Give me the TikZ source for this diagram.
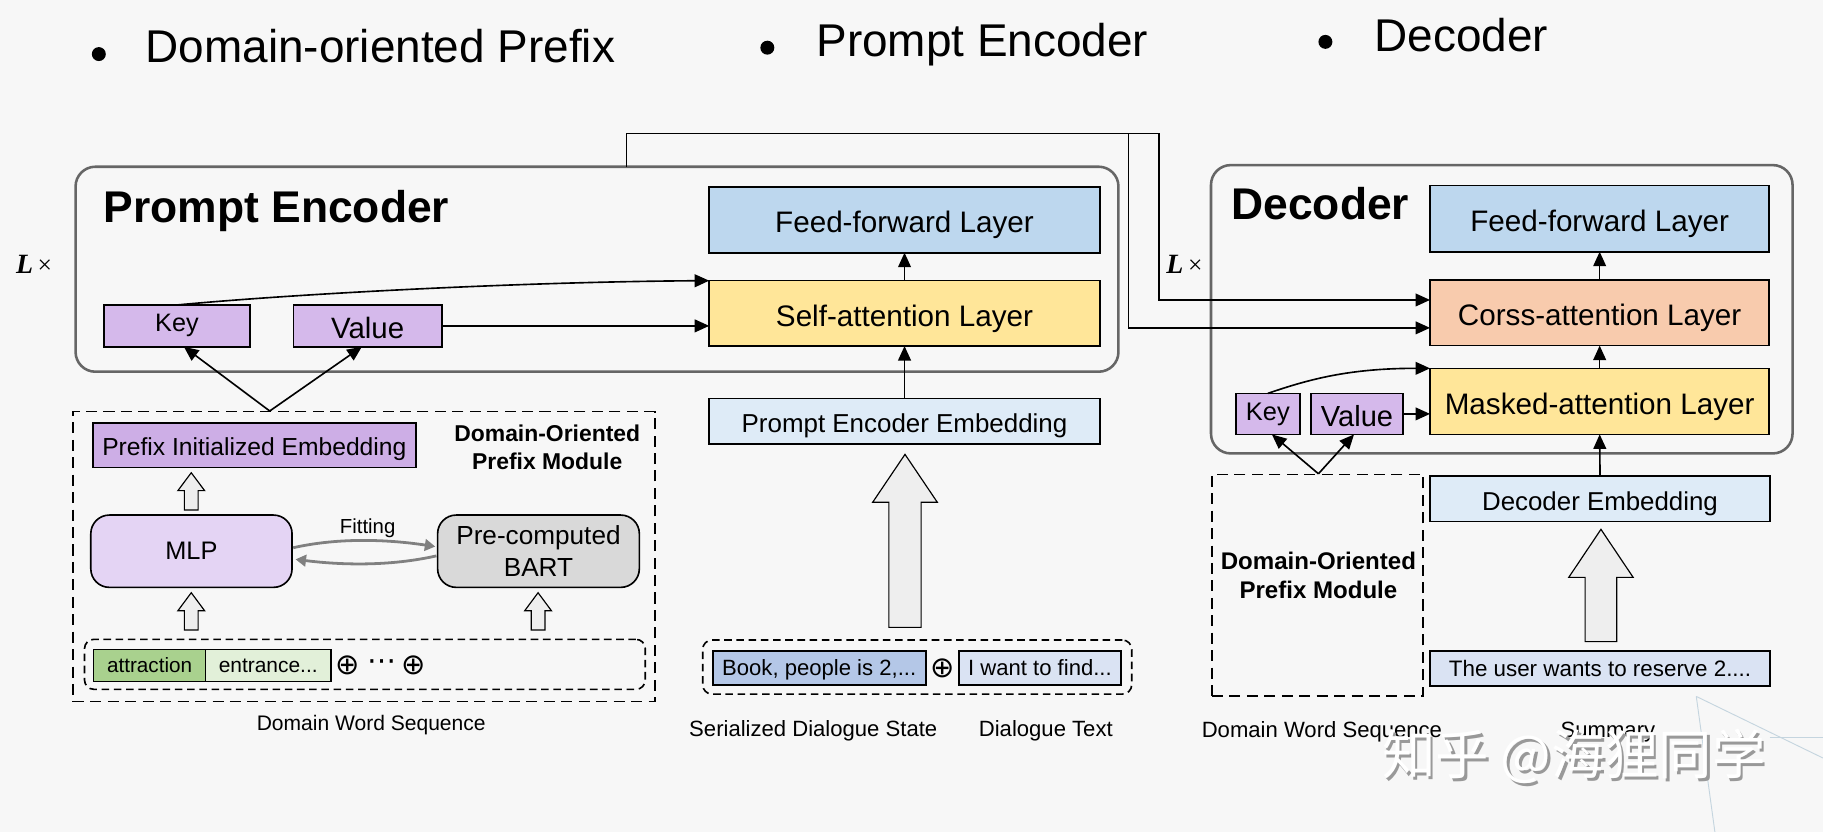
\documentclass[tikz,border=0pt]{standalone}
\usepackage{fontspec}
\setmainfont{Liberation Sans}
\newfontfamily\serifL{Liberation Serif}
\newfontfamily\cjkfont{Noto Sans CJK SC}
\newfontfamily\dejavu{DejaVu Sans}
\usetikzlibrary{arrows.meta,calc}
\newcommand{\myfs}[2]{\fontsize{#1}{#2}\selectfont}
\definecolor{bg}{HTML}{F7F7F7}
\definecolor{ffblue}{HTML}{BDD7EE}
\definecolor{sayellow}{HTML}{FFE699}
\definecolor{capeach}{HTML}{F8CBAD}
\definecolor{embblue}{HTML}{DEEBF7}
\definecolor{kvpurple}{HTML}{D5B9EB}
\definecolor{piepurple}{HTML}{CDAEE6}
\definecolor{mlppurple}{HTML}{E4D4F4}
\definecolor{bartgray}{HTML}{D9D9D9}
\definecolor{attrgreen}{HTML}{A9D18E}
\definecolor{entrgreen}{HTML}{E2F0D9}
\definecolor{bookblue}{HTML}{B4C7E7}
\definecolor{textblue}{HTML}{DAE3F3}
\definecolor{outergray}{HTML}{666666}
\definecolor{blockfill}{HTML}{EEEEEE}
\definecolor{fitgray}{HTML}{808080}
\definecolor{faint}{HTML}{C5D5DF}
\newcommand{\upblock}[6]{\draw[blockarr] (#1,#2) -- ({#1+#5},#3) -- ({#1+#6},#3) -- ({#1+#6},#4) -- ({#1-#6},#4) -- ({#1-#6},#3) -- ({#1-#5},#3) -- cycle;}
\begin{document}
\begin{tikzpicture}[x=1pt,y=-1pt,
  box/.style={draw=black, line width=1.4pt, inner sep=0pt, outer sep=0pt},
  th/.style 2 args={text height=#1, text depth=#2},
  layer/.style={box, th={27.3pt}{5.4pt}, font=\myfs{25.5}{30}},
  outerbox/.style={draw=outergray, line width=2.2pt, rounded corners=17pt, inner sep=0pt, outer sep=0pt},
  dashbox/.style={draw=black, line width=1.4pt, dash pattern=on 9.5pt off 5.5pt, inner sep=0pt, outer sep=0pt},
  sdashbox/.style={draw=black, line width=1.4pt, dash pattern=on 6.5pt off 4pt, rounded corners=8pt, inner sep=0pt, outer sep=0pt},
  arr/.style={-{Triangle[length=12.5pt,width=11pt]}, line width=1.4pt},
  fitarr/.style={-{Triangle[length=9pt,width=10pt]}, line width=2.4pt, draw=fitgray, color=fitgray},
  blockarr/.style={draw=black, line width=1pt, fill=blockfill},
  lbl/.style={font=\myfs{19}{23}, inner sep=0pt, anchor=base},
  head/.style={font=\myfs{39.5}{42}, inner sep=0pt, anchor=base west},
  title/.style={font=\bfseries\myfs{38.2}{40}, inner sep=0pt, anchor=base west},
  lx/.style={font=\myfs{24}{26}, inner sep=0pt, anchor=base west},
  sym/.style={font=\dejavu\myfs{25}{28}, inner sep=0pt},
]
\fill[bg] (0,0) rectangle (1568,715.6);
\useasboundingbox (0,0) rectangle (1568,715.6);

% headings
\fill (85,46.5) circle (6pt);
\fill (660,41) circle (6pt);
\fill (1140,36) circle (6pt);
\node[head] (h1) at (125,54) {Domain-oriented Prefix};
\node[head] (h2) at (702,49) {Prompt Encoder};
\node[head] (h3) at (1182,44.5) {Decoder};

% prompt encoder
\node[outerbox, minimum width=897pt, minimum height=176.3pt] (penc) at (513.5,231.55) {};
\node[title] (pett) at (89,191) {Prompt Encoder};
\node[lx] (lx1) at (13.6,235) {\serifL\bfseries\itshape L\normalfont\serifL\,{\myfs{22}{24}×}};
\node[layer, fill=ffblue, minimum width=336pt, minimum height=56.7pt] (ff1) at (778,189) {Feed-forward Layer};
\node[layer, fill=sayellow, minimum width=336pt, minimum height=56.2pt] (sa1) at (778,269.5) {Self-attention Layer};
\node[box, fill=kvpurple, minimum width=126pt, minimum height=36pt, font=\myfs{21.7}{24}] (key1) at (152.2,280.3) {Key};
\node[box, th={27.1pt}{5.3pt}, fill=kvpurple, minimum width=127.5pt, minimum height=36pt, font=\myfs{25.3}{28}] (val1) at (316.2,280.3) {Value};
\node[box, th={24.2pt}{4.7pt}, fill=embblue, minimum width=336pt, minimum height=39.4pt, font=\myfs{22.3}{26}] (pee) at (778,362.3) {Prompt Encoder Embedding};

% decoder
\node[outerbox, minimum width=500.2pt, minimum height=248pt] (dec) at (1291.7,266) {};
\node[title] (dect) at (1059,189) {Decoder};
\node[lx] (lx2) at (1003,235) {\serifL\bfseries\itshape L\normalfont\serifL\,{\myfs{22}{24}×}};
\node[layer, fill=ffblue, minimum width=291.8pt, minimum height=56.8pt] (ff2) at (1375.9,188.1) {Feed-forward Layer};
\node[layer, fill=capeach, minimum width=291.8pt, minimum height=56.5pt] (ca) at (1375.9,269) {Corss-attention Layer};
\node[layer, fill=sayellow, minimum width=291.8pt, minimum height=56.8pt] (ma) at (1375.9,345.2) {Masked-attention Layer};
\node[box, fill=kvpurple, minimum width=55pt, minimum height=35.3pt, font=\myfs{21.9}{24}] (key2) at (1090.5,356) {Key};
\node[box, th={26.8pt}{5.25pt}, fill=kvpurple, minimum width=79.2pt, minimum height=35.3pt, font=\myfs{25}{28}] (val2) at (1167.2,356) {Value};
\node[box, th={24.5pt}{4.7pt}, fill=embblue, minimum width=292.5pt, minimum height=39.3pt, font=\myfs{22.25}{26}] (de) at (1376.2,429) {Decoder Embedding};
\node[box, fill=textblue, minimum width=292.5pt, minimum height=30.3pt, font=\myfs{19.25}{23}] (summ) at (1376.2,574.9) {The user wants to reserve 2....};
\node[dashbox, minimum width=181.7pt, minimum height=190.4pt] (mod2) at (1133.3,503.2) {};
\node[font=\bfseries\myfs{20.7}{25.5}, align=center, inner sep=0pt] (mod2t) at (1134,495) {Domain-Oriented\\Prefix Module};

% left prefix module
\node[dashbox, minimum width=500.6pt, minimum height=249.5pt] (mod1) at (313.1,478.75) {};
\node[font=\bfseries\myfs{19.7}{23.8}, align=center, inner sep=0pt] (mod1t) at (470.7,385) {Domain-Oriented\\Prefix Module};
\node[box, th={22.7pt}{4.5pt}, fill=piepurple, minimum width=277.9pt, minimum height=38pt, font=\myfs{21.2}{24}] (pie) at (218.75,383) {Prefix Initialized Embedding};
\node[box, rounded corners=16pt, fill=mlppurple, minimum width=173.1pt, minimum height=62.2pt, font=\myfs{21.8}{26}] (mlp) at (164.65,474.1) {MLP};
\node[box, rounded corners=16pt, fill=bartgray, minimum width=173.5pt, minimum height=62.2pt, font=\myfs{22.5}{27}, align=center] (bart) at (463.15,474.1) {Pre-computed\\BART};
\node[sdashbox, minimum width=482.3pt, minimum height=43pt] (wseq) at (313.85,571.4) {};
\node[box, fill=attrgreen, minimum width=96.3pt, minimum height=27.8pt, font=\myfs{17.8}{21}] (attr) at (128.65,572.4) {attraction};
\node[box, fill=entrgreen, minimum width=107.8pt, minimum height=27.8pt, font=\myfs{18}{21}] (entr) at (230.7,572.4) {entrance...};
\node[sym] (op1) at (299.2,572.6) {⊕};
\node[sym] (dots1) at (328.8,572) {⋯};
\node[sym] (op2) at (356,572.6) {⊕};
\node[lbl, font=\myfs{18.1}{22}] (dws1) at (319.3,628) {Domain Word Sequence};
\node[lbl, font=\myfs{17.5}{21}] (fit) at (316.2,458.7) {Fitting};

% middle input
\node[sdashbox, minimum width=369pt, minimum height=46.5pt] (inbox) at (788.9,573.75) {};
\node[box, th={17.1pt}{4pt}, fill=bookblue, minimum width=183.2pt, minimum height=29.5pt, font=\myfs{19}{22}] (book) at (704.6,574.45) {Book, people is 2,...};
\node[sym] (op3) at (810.5,574.8) {⊕};
\node[box, th={17.1pt}{4pt}, fill=textblue, minimum width=139.1pt, minimum height=29.5pt, font=\myfs{19}{22}] (want) at (894.45,574.45) {I want to find...};
\node[lbl] (sds) at (699.5,633.6) {Serialized Dialogue State};
\node[lbl] (dtx) at (899.5,633.6) {Dialogue Text};
\node[lbl] (dws2) at (1137,634.5) {Domain Word Sequence};
\node[lbl] (sumlbl) at (1383,634.5) {Summary};

% block arrows
\upblock{778.4}{390.8}{432}{539.6}{27.8}{13.9}
\upblock{1377}{455.3}{496.6}{551.9}{27.7}{13.65}
\upblock{164.5}{406.6}{422}{438.7}{11.5}{5.9}
\upblock{164.5}{509.8}{525.3}{541.9}{11.5}{5.9}
\upblock{462.8}{509.8}{525.3}{541.9}{11.5}{5.9}

% encoder connectors
\draw[arr] (sa1.north) -- (ff1.south);
\draw[arr] (pee.north) -- (sa1.south);
\draw[arr] (val1.east) -- (val1.east -| sa1.west);
\draw[arr] (key1.north) .. controls +(107,-10) and +(-158,1) .. (sa1.north west);
\coordinate (ap1) at (232,353.5);
\draw[arr] (ap1) -- ([xshift=6pt]key1.south);
\draw[arr] (ap1) -- ([xshift=-5pt]val1.south);

% fitting
\draw[fitarr] ($(mlp.east)+(1,-3)$) .. controls +(40,-9) and +(-40,-6) .. ($(bart.west)+(-2,-4)$);
\draw[fitarr] ($(bart.west)+(-1,4)$) .. controls +(-40,9) and +(40,5) .. ($(mlp.east)+(3,7)$);

% decoder connectors
\draw[arr] (ma.north) -- (ca.south);
\draw[arr] (ca.north) -- (ff2.south);
\draw[arr] (de.north) -- (ma.south);
\draw[arr] (val2.east) -- (val2.east -| ma.west);
\draw[arr] (key2.north) .. controls +(35,-12) and +(-70,0) .. (ma.north west);
\coordinate (ap2) at (1134,407.5);
\draw[arr] (ap2) -- ([xshift=3.5pt]key2.south);
\draw[arr] (ap2) -- ([xshift=-2.6pt]val2.south);

% encoder output wires
\coordinate (w0) at (539,114.7);
\coordinate (w1) at (997,114.7);
\coordinate (w2) at (970.7,114.7);
\coordinate (ca1) at ($(ca.west)+(0,-11)$);
\coordinate (ca2) at ($(ca.west)+(0,13)$);
\draw[arr] (penc.north -| w0) -- (w0) -- (w1) -- (w1 |- ca1) -- (ca1);
\draw[arr] (w2) -- (w2 |- ca2) -- (ca2);

% faint decoration lines
\draw[faint, line width=0.8pt] (1459,599) -- (1475,715.6);
\draw[faint, line width=0.8pt] (1459,599) -- (1568,652);
\draw[faint, line width=0.8pt] (1522,634) -- (1568,634);

% watermark
\node[font=\cjkfont\myfs{46}{50}, text=black!40, anchor=west, inner sep=0pt] (wm1) at (1191,653) {知乎 @海狸同学};
\node[font=\cjkfont\myfs{46}{50}, text=white, anchor=west, inner sep=0pt] (wm2) at (1188.5,650.5) {知乎 @海狸同学};
\end{tikzpicture}
\end{document}
